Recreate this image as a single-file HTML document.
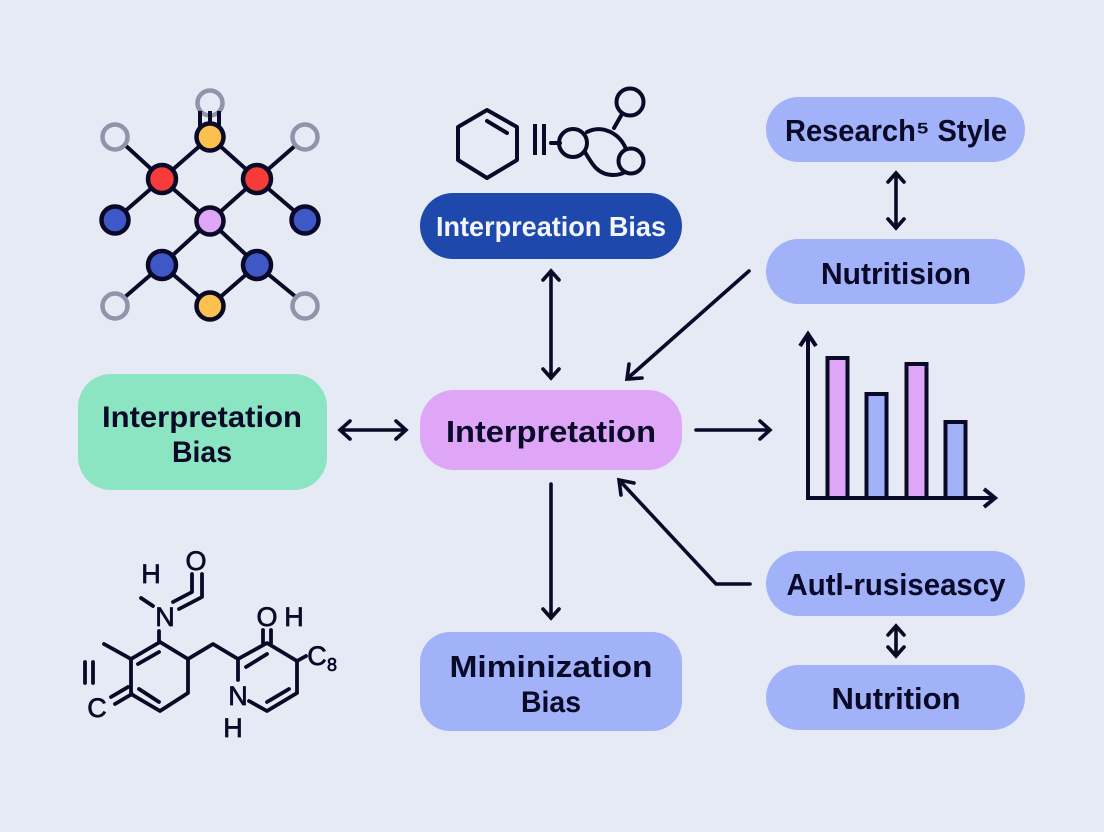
<!DOCTYPE html>
<html>
<head>
<meta charset="utf-8">
<style>
html,body{margin:0;padding:0;width:1104px;height:832px;overflow:hidden;background:#e5eaf4}
svg{display:block}
text{font-family:"Liberation Sans",sans-serif;font-weight:700;text-anchor:middle;fill:#0a0a28}
.a{font-weight:400;stroke:#0a0a28;stroke-width:.7}
</style>
</head>
<body>
<svg width="1104" height="832" viewBox="0 0 1104 832" xmlns="http://www.w3.org/2000/svg">
<rect width="1104" height="832" fill="#e5eaf4"/>

<!-- Molecule network -->
<g stroke="#8e95aa" stroke-width="4.5" fill="#e5eaf4">
<circle cx="210" cy="103" r="12.5" fill="none"/>
</g>
<g stroke="#0a0a28" stroke-width="4" fill="none">
<path d="M125 145L162 179L210 137L257 179L296 145M115 220L162 179L210 221L257 179L305 220M125 297L162 265L210 221L257 265L296 297M162 265L210 306L257 265"/>
<path d="M200 111V130M210 111V130M219 111V130"/>
</g>
<g stroke="#8e95aa" stroke-width="4.5" fill="#e5eaf4">
<circle cx="115" cy="137" r="12.5"/><circle cx="305" cy="137" r="12.5"/>
<circle cx="115" cy="306" r="12.5"/><circle cx="305" cy="306" r="12.5"/>
</g>
<g stroke="#0a0a28" stroke-width="4.5">
<circle cx="210" cy="137" r="13.5" fill="#fcc04f"/>
<circle cx="162" cy="179" r="14" fill="#f63b3a"/>
<circle cx="257" cy="179" r="14" fill="#f63b3a"/>
<circle cx="115" cy="220" r="13.5" fill="#3f58c8"/>
<circle cx="305" cy="220" r="13.5" fill="#3f58c8"/>
<circle cx="210" cy="221" r="13.5" fill="#dfa6f6"/>
<circle cx="162" cy="265" r="14" fill="#3f58c8"/>
<circle cx="257" cy="265" r="14" fill="#3f58c8"/>
<circle cx="210" cy="306" r="13.5" fill="#fcc04f"/>
</g>

<!-- Top molecule -->
<g stroke="#0a0a28" stroke-width="4" fill="none" stroke-linecap="round" stroke-linejoin="round">
<path d="M487 110L517 127V160L487 178L458 160V127Z"/>
<path d="M487 121L507 133"/>
<path d="M535 124V155M544 124V155" stroke-linecap="butt"/>
<path d="M551 143H560"/>
<circle cx="573" cy="143" r="14"/>
<circle cx="630" cy="102" r="13.5"/>
<circle cx="631" cy="161" r="12.5"/>
<path d="M587 132C603 124 620 134 626 149"/>
<path d="M614 128L622 114"/>
<path d="M585 152C592 164 598 175 613 175C618 175 622 174 625 172"/>
</g>

<!-- Pills -->
<rect x="420" y="193" width="262" height="66" rx="33" fill="#1f48ad"/>
<text x="551" y="236" font-size="28" textLength="230" lengthAdjust="spacingAndGlyphs" style="fill:#f2f5fb">Interpreation Bias</text>

<rect x="766" y="97" width="259" height="65" rx="32.5" fill="#a1b2f8"/>
<text x="896" y="141" font-size="31" textLength="222" lengthAdjust="spacingAndGlyphs">Research⁵ Style</text>

<rect x="766" y="239" width="259" height="65" rx="32.5" fill="#a1b2f8"/>
<text x="896" y="284" font-size="31" textLength="150" lengthAdjust="spacingAndGlyphs">Nutritision</text>

<rect x="78" y="374" width="249" height="116" rx="33" fill="#8ce5c2"/>
<text x="202" y="427" font-size="30" textLength="200" lengthAdjust="spacingAndGlyphs">Interpretation</text>
<text x="202" y="462" font-size="30" textLength="60" lengthAdjust="spacingAndGlyphs">Bias</text>

<rect x="420" y="390" width="262" height="80" rx="34" fill="#dfa6f8"/>
<text x="551" y="442" font-size="31" textLength="210" lengthAdjust="spacingAndGlyphs">Interpretation</text>

<rect x="420" y="632" width="262" height="99" rx="30" fill="#a1b2f8"/>
<text x="551" y="677" font-size="31" textLength="203" lengthAdjust="spacingAndGlyphs">Miminization</text>
<text x="551" y="712" font-size="30" textLength="60" lengthAdjust="spacingAndGlyphs">Bias</text>

<rect x="766" y="551" width="259" height="65" rx="32.5" fill="#a1b2f8"/>
<text x="896" y="595" font-size="31" textLength="219" lengthAdjust="spacingAndGlyphs">Autl-rusiseascy</text>

<rect x="766" y="665" width="259" height="65" rx="32.5" fill="#a1b2f8"/>
<text x="896" y="709" font-size="31" textLength="129" lengthAdjust="spacingAndGlyphs">Nutrition</text>

<!-- Connectors -->
<g stroke="#0a0a28" stroke-width="3.6" fill="none" stroke-linecap="round" stroke-linejoin="miter">
<path d="M551 272V377M543 280L551 271L559 280M543 369L551 378L559 369"/>
<path d="M341 430H405M350 421L340 430L350 439M396 421L406 430L396 439"/>
<path d="M696 430H769M760 421L770 430L760 439"/>
<path d="M551 484V617M543 609L551 618L559 609"/>
<path d="M749 271L628 378M629 364L627 379L642 378"/>
<path d="M750 584H716L620 481M621 495L619 480L634 483"/>
<path d="M896 174V227M888 182L896 173L904 182M888 219L896 228L904 219"/>
<path d="M896 627V655M888 635L896 626L904 635M888 647L896 656L904 647"/>
</g>

<!-- Bar chart -->
<g stroke="#0a0a28" stroke-width="4" stroke-linejoin="miter">
<rect x="827.5" y="358" width="20" height="140" fill="#dfa6f8"/>
<rect x="866.5" y="394" width="20" height="104" fill="#a1b2f8"/>
<rect x="906.5" y="364" width="20" height="134" fill="#dfa6f8"/>
<rect x="945.5" y="422" width="20" height="76" fill="#a1b2f8"/>
<path d="M808 335V498H994" fill="none"/>
<path d="M800 346L808 334L816 346M984 489L995 498L984 507" fill="none"/>
</g>

<!-- Bottom molecule -->
<g stroke="#0a0a28" stroke-width="3.8" fill="none" stroke-linejoin="round" stroke-linecap="round">
<path d="M160 642L188 659V693L160 711L131 694V659Z"/>
<path d="M138 664L159 652M139 689L159 702"/>
<path d="M159 631V642"/>
<path d="M141 598L153 606"/>
<path d="M173 602L192 592V574M179 609L202 597V574"/>
<path d="M104 644L131 659"/>
<path d="M85 662V683M93 662V683"/>
<path d="M111 697L128 687M115 704L132 694"/>
<path d="M188 659L213 644L238 659"/>
<path d="M238 659L267 643L297 661V693L267 711L249 701"/>
<path d="M238 659V680"/>
<path d="M246 667L267 654M267 702L289 689"/>
<path d="M263 630V643M271 630V643"/>
<path d="M297 661L306 656"/>
</g>
<text class="a" x="151" y="583" font-size="27">H</text>
<text class="a" x="196" y="570" font-size="27">O</text>
<text class="a" x="165" y="626" font-size="27">N</text>
<text class="a" x="97" y="717" font-size="27">C</text>
<text class="a" x="238" y="705" font-size="27">N</text>
<text class="a" x="233" y="737" font-size="27">H</text>
<text class="a" x="267" y="626" font-size="27">O</text>
<text class="a" x="294" y="626" font-size="27">H</text>
<text class="a" x="317" y="665" font-size="27">C</text>
<text class="a" x="332" y="671" font-size="18">8</text>
</svg>
</body>
</html>
